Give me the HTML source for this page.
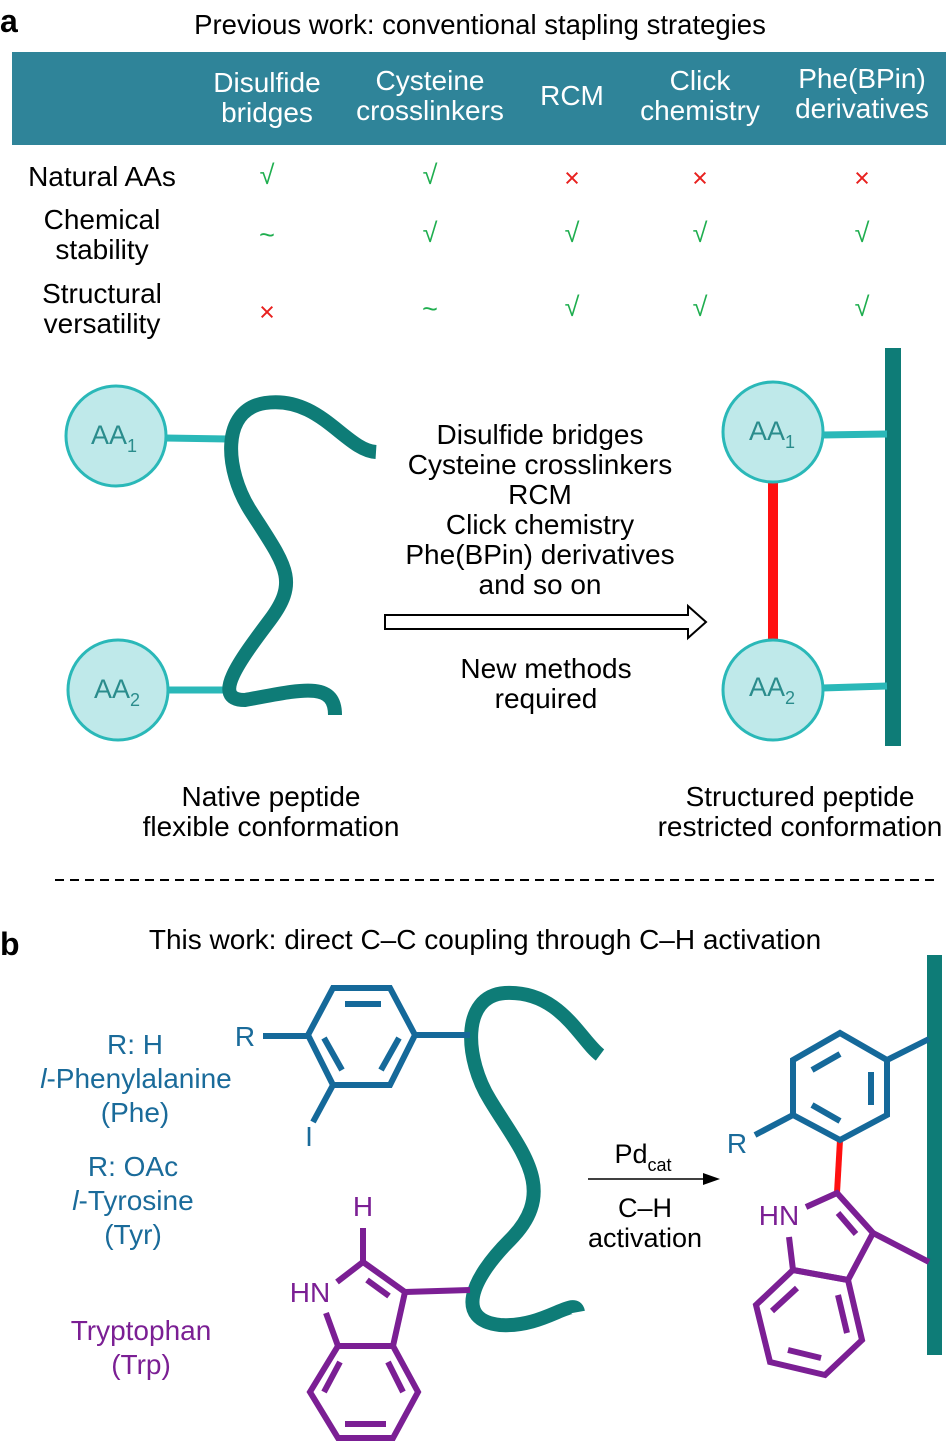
<!DOCTYPE html>
<html><head><meta charset="utf-8"><style>
html,body{margin:0;padding:0;background:#fff}
svg{display:block}
text{font-family:"Liberation Sans",sans-serif}
</style></head><body>
<svg width="946" height="1442" viewBox="0 0 946 1442" xmlns="http://www.w3.org/2000/svg">
<!-- part a -->
<text x="0" y="32" font-size="32" font-weight="bold">a</text>
<text x="480" y="34" font-size="27.5" text-anchor="middle">Previous work: conventional stapling strategies</text>
<rect x="12" y="52" width="934" height="93" fill="#2f8499"/>
<g fill="#fff" font-size="28" text-anchor="middle">
<text x="267" y="92">Disulfide</text><text x="267" y="122">bridges</text>
<text x="430" y="90">Cysteine</text><text x="430" y="120">crosslinkers</text>
<text x="572" y="105">RCM</text>
<text x="700" y="90">Click</text><text x="700" y="120">chemistry</text>
<text x="862" y="88">Phe(BPin)</text><text x="862" y="118">derivatives</text>
</g>
<g font-size="28" text-anchor="middle">
<text x="102" y="186">Natural AAs</text>
<text x="102" y="229">Chemical</text><text x="102" y="259">stability</text>
<text x="102" y="303">Structural</text><text x="102" y="333">versatility</text>
</g>
<g font-size="27" text-anchor="middle" fill="#1fae4f">
<text x="267" y="184">√</text><text x="430" y="184">√</text>
<text x="267" y="244">~</text><text x="430" y="242">√</text><text x="572" y="242">√</text><text x="700" y="242">√</text><text x="862" y="242">√</text>
<text x="430" y="318">~</text><text x="572" y="316">√</text><text x="700" y="316">√</text><text x="862" y="316">√</text>
</g>
<g font-size="27" text-anchor="middle" fill="#e8201e">
<text x="572" y="187">×</text><text x="700" y="187">×</text><text x="862" y="187">×</text>
<text x="267" y="321">×</text>
</g>
<!-- left peptide -->
<line x1="165" y1="438" x2="228" y2="439" stroke="#2ab8b8" stroke-width="7"/>
<line x1="167" y1="690" x2="228" y2="690" stroke="#2ab8b8" stroke-width="7"/>
<path d="M376,452 C345,450 320,395 265,403 C220,410 225,470 250,510 C285,565 300,580 270,620 C240,660 210,700 245,700 C300,690 335,680 335,715" fill="none" stroke="#0e7c77" stroke-width="14"/>
<circle cx="116" cy="436" r="50" fill="#bfe9ea" stroke="#2ab8b8" stroke-width="3"/>
<circle cx="118" cy="690" r="50" fill="#bfe9ea" stroke="#2ab8b8" stroke-width="3"/>
<!-- right structured -->
<rect x="885" y="348" width="16" height="398" fill="#0e7c77"/>
<line x1="773" y1="480" x2="773" y2="642" stroke="#ff1010" stroke-width="10"/>
<line x1="822" y1="435" x2="887" y2="434" stroke="#2ab8b8" stroke-width="7"/>
<line x1="822" y1="688" x2="887" y2="686" stroke="#2ab8b8" stroke-width="7"/>
<circle cx="773" cy="432" r="50" fill="#bfe9ea" stroke="#2ab8b8" stroke-width="3"/>
<circle cx="773" cy="690" r="50" fill="#bfe9ea" stroke="#2ab8b8" stroke-width="3"/>
<g fill="#2a8c8c" font-size="27">
<text x="91" y="444">AA<tspan font-size="18" dy="8">1</tspan></text>
<text x="94" y="698">AA<tspan font-size="18" dy="8">2</tspan></text>
<text x="749" y="440">AA<tspan font-size="18" dy="8">1</tspan></text>
<text x="749" y="696">AA<tspan font-size="18" dy="8">2</tspan></text>
</g>
<g font-size="28" text-anchor="middle">
<text x="540" y="444">Disulfide bridges</text>
<text x="540" y="474">Cysteine crosslinkers</text>
<text x="540" y="504">RCM</text>
<text x="540" y="534">Click chemistry</text>
<text x="540" y="564">Phe(BPin) derivatives</text>
<text x="540" y="594">and so on</text>
<text x="546" y="678">New methods</text>
<text x="546" y="708">required</text>
<text x="271" y="806">Native peptide</text>
<text x="271" y="836">flexible conformation</text>
<text x="800" y="806">Structured peptide</text>
<text x="800" y="836">restricted conformation</text>
</g>
<path d="M385,615 L688,615 L688,606 L706,622 L688,638 L688,629 L385,629 Z" fill="#fff" stroke="#000" stroke-width="2"/>
<line x1="55" y1="880" x2="935" y2="880" stroke="#000" stroke-width="2" stroke-dasharray="9,6"/>
<!-- part b -->
<text x="0" y="955" font-size="32" font-weight="bold">b</text>
<text x="485" y="949" font-size="28" text-anchor="middle">This work: direct C–C coupling through C–H activation</text>
<g font-size="28" text-anchor="middle" fill="#1a6b9a">
<text x="135" y="1054">R: H</text>
<text x="136" y="1088"><tspan font-style="italic">l</tspan>-Phenylalanine</text>
<text x="135" y="1122">(Phe)</text>
<text x="133" y="1176">R: OAc</text>
<text x="133" y="1210"><tspan font-style="italic">l</tspan>-Tyrosine</text>
<text x="133" y="1244">(Tyr)</text>
<text x="245" y="1046">R</text>
<text x="309" y="1146">I</text>
<text x="737" y="1153">R</text>
</g>
<g font-size="28" text-anchor="middle" fill="#7b1f94">
<text x="141" y="1340">Tryptophan</text>
<text x="141" y="1374">(Trp)</text>
<text x="363" y="1216">H</text>
<text x="310" y="1302">HN</text>
<text x="779" y="1225">HN</text>
</g>
<!-- peptide b -->
<path d="M600,1055 C580,1040 560,990 505,993 C460,996 465,1060 490,1100 C520,1150 560,1190 510,1240 C470,1280 455,1320 500,1325 C545,1328 575,1295 578,1312" fill="none" stroke="#0e7c77" stroke-width="14"/>
<!-- Phe ring -->
<g stroke="#15699a" stroke-width="6" fill="none">
<polygon points="333,988 390,988 415,1035 390,1085 333,1085 308,1035"/>
<line x1="345" y1="1004" x2="381" y2="1004"/>
<line x1="399" y1="1038" x2="381" y2="1070"/>
<line x1="324" y1="1038" x2="342" y2="1070"/>
<line x1="263" y1="1036" x2="308" y2="1036"/>
<line x1="415" y1="1035" x2="470" y2="1035"/>
<line x1="333" y1="1085" x2="313" y2="1122"/>
</g>
<!-- Trp -->
<g stroke="#7b1f94" stroke-width="6" fill="none">
<line x1="363" y1="1228" x2="363" y2="1262"/>
<polyline points="337,1282 363,1262 405,1292 393,1346 338,1346 326,1313"/>
<line x1="367" y1="1280" x2="389" y2="1296"/>
<line x1="405" y1="1292" x2="470" y2="1290"/>
<polygon points="338,1346 393,1346 418,1392 393,1438 338,1438 310,1392"/>
<line x1="340" y1="1362" x2="324" y2="1392"/>
<line x1="388" y1="1362" x2="403" y2="1392"/>
<line x1="345" y1="1424" x2="386" y2="1424"/>
</g>
<!-- arrow -->
<line x1="588" y1="1179" x2="705" y2="1179" stroke="#000" stroke-width="1.5"/>
<polygon points="720,1179 703,1173 703,1185" fill="#000"/>
<g font-size="27" text-anchor="middle">
<text x="643" y="1163">Pd<tspan font-size="18" dy="8">cat</tspan></text>
<text x="645" y="1217">C–H</text>
<text x="645" y="1247">activation</text>
</g>
<!-- product -->
<rect x="927" y="955" width="15" height="400" fill="#0e7c77"/>
<line x1="840" y1="1140" x2="837" y2="1193" stroke="#ff1010" stroke-width="6"/>
<g stroke="#15699a" stroke-width="6" fill="none">
<polygon points="840,1033 887,1060 887,1115 840,1140 793,1115 793,1060"/>
<line x1="812" y1="1070" x2="840" y2="1054"/>
<line x1="871" y1="1072" x2="871" y2="1105"/>
<line x1="812" y1="1105" x2="840" y2="1121"/>
<line x1="887" y1="1060" x2="929" y2="1039"/>
<line x1="793" y1="1115" x2="755" y2="1135"/>
</g>
<g stroke="#7b1f94" stroke-width="6" fill="none">
<polyline points="806,1207 837,1193 873,1233 848,1280 793,1270 789,1237"/>
<line x1="838" y1="1213" x2="856" y2="1234"/>
<line x1="873" y1="1233" x2="929" y2="1262"/>
<polygon points="793,1270 848,1280 862,1340 825,1375 770,1362 756,1305"/>
<line x1="797" y1="1288" x2="772" y2="1311"/>
<line x1="838" y1="1295" x2="847" y2="1333"/>
<line x1="788" y1="1350" x2="821" y2="1358"/>
</g>
</svg>
</body></html>
